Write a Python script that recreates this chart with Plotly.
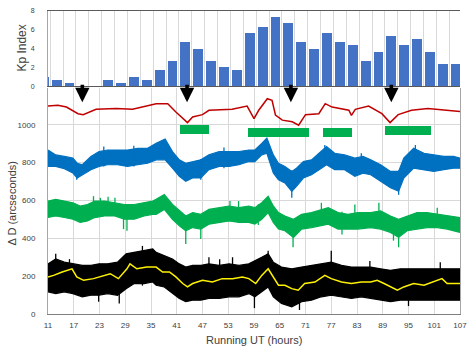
import plotly.graph_objects as go

# ---------------- data ----------------
kp_hours = [10, 13, 16, 19, 22, 25, 28, 31, 34, 37, 40, 43, 46, 49, 52, 55, 58, 61, 64,
            67, 70, 73, 76, 79, 82, 85, 88, 91, 94, 97, 100, 103, 106]
kp_values = [1.0, 0.67, 0.33, 0, 0, 0.67, 0.33, 1.0, 0.67, 1.67, 2.67, 4.67, 4.0, 2.67, 2.0,
             1.67, 5.67, 6.33, 7.33, 6.67, 4.67, 4.0, 5.67, 4.67, 4.33, 2.67, 3.67, 5.33,
             4.33, 5.0, 3.67, 2.33, 2.33]

red_hours = [11, 13.3, 15.3, 18.0, 19.2, 22.2, 26.9, 30.7, 36.2, 38.9, 40.8, 43.5, 44.7, 47.0,
             48.5, 53.9, 57.4, 59.0, 60.1, 62.1, 63.2, 64.0, 65.6, 67.9, 69.4, 71.0, 74.1,
             75.6, 77.2, 81.1, 81.7, 82.6, 85.7, 88.8, 90.7, 92.6, 95.7, 99.5, 107]
red_values = [1099, 1103, 1094, 1059, 1054, 1082, 1086, 1082, 1112, 1112, 1068, 1012, 1042, 1054,
              1077, 1082, 1099, 1033, 1077, 1138, 1130, 1052, 1025, 1016, 998, 1054, 1059,
              1112, 1094, 1077, 1050, 1082, 1099, 1059, 1012, 1054, 1077, 1086, 1071]

blue_hours = [11, 12.8, 14.8, 16.8, 17.8, 19, 21, 22.9, 24.9, 27.2, 29.5, 31.9, 34.2, 36.2, 38.3,
              40.0, 41.6, 43.1, 44.7, 46.6, 48.5, 50.9, 53.2, 55.5, 57.8, 59.2, 60.8, 62.0,
              63.5, 64.7, 66.2, 67.8, 68.9, 70.5, 72.4, 74.7, 75.9, 77.8, 80.1, 82.5, 84.4,
              86.2, 88.5, 90.8, 92.7, 93.9, 96.2, 98.6, 100.9, 103.2, 105.5, 107]
blue_top = [867, 841, 833, 824, 797, 789, 833, 859, 867, 867, 867, 876, 876, 902, 925,
            859, 815, 797, 806, 815, 841, 859, 859, 859, 867, 867, 902, 930,
            841, 797, 780, 754, 771, 806, 815, 859, 885, 850, 841, 824, 833,
            815, 789, 754, 754, 824, 876, 850, 841, 833, 833, 824]
blue_bottom = [780, 780, 768, 745, 719, 736, 763, 780, 789, 789, 780, 789, 797, 815, 815,
               771, 728, 702, 719, 719, 763, 780, 780, 789, 806, 806, 841, 850,
               745, 710, 693, 649, 675, 719, 736, 771, 789, 763, 763, 728, 745,
               736, 702, 667, 649, 719, 771, 763, 754, 763, 771, 771]
blue_spike_hours = [17.7, 46.6, 67.8, 75.5, 92.7, 96.6, 24.0, 31.0, 52.0, 84.0]
blue_spike_low = [710, 710, 614, 800, 630, 780, 780, 780, 770, 740]
blue_spike_high = [800, 820, 760, 893, 760, 893, 885, 890, 880, 850]

green_hours = [11, 12.8, 14.8, 16.8, 18.5, 20.2, 21.9, 24.2, 26.5, 28.8, 31.1, 33.4, 35.4, 36.2,
               38.1, 40.0, 41.6, 43.1, 44.7, 46.6, 48.5, 50.9, 53.2, 55.5, 57.8, 59.2, 60.8,
               62.3, 63.5, 64.7, 66.2, 68.2, 70.1, 72.4, 74.7, 76.3, 78.6, 80.9, 83.2, 86.2,
               88.5, 90.8, 92.7, 94.7, 97.0, 99.3, 101.7, 104.0, 107]
green_top = [597, 606, 597, 588, 571, 579, 597, 597, 588, 579, 579, 588, 597, 606,
             632, 579, 545, 518, 536, 527, 553, 562, 571, 562, 571, 562, 588,
             623, 571, 536, 518, 501, 527, 536, 553, 562, 536, 527, 536, 536,
             545, 518, 501, 518, 536, 536, 527, 518, 510]
green_bottom = [510, 518, 510, 501, 484, 492, 510, 518, 518, 501, 501, 518, 527, 527,
                553, 501, 466, 440, 457, 449, 475, 484, 492, 484, 484, 475, 501,
                536, 484, 449, 440, 405, 449, 457, 466, 475, 449, 449, 449, 457,
                449, 431, 405, 440, 449, 457, 457, 449, 431]
green_spike_hours = [21.6, 23.2, 25.0, 26.6, 28.6, 29.4, 43.1, 46.6, 53.4, 55.4, 68.1, 74.7,
                     82.5, 88.1, 91.5, 92.7, 101.7, 60.0, 79.5]
green_spike_low = [540, 540, 540, 540, 449, 440, 370, 396, 520, 520, 353, 500, 500, 500,
                   388, 353, 500, 470, 420]
green_spike_high = [623, 614, 620, 614, 560, 560, 500, 500, 597, 597, 470, 588, 579, 588,
                    480, 470, 562, 580, 540]

black_hours = [11, 12.8, 14.8, 16.8, 19, 21, 22.9, 24.9, 27.2, 29.2, 31.1, 33.4, 35.4, 36.2,
               38.1, 40.0, 41.6, 43.1, 44.7, 46.6, 48.5, 50.9, 53.2, 55.5, 57.8, 59.2, 60.8,
               62.3, 63.5, 65.4, 67.8, 70.1, 72.4, 74.7, 77.0, 79.4, 81.7, 84.0, 86.2, 88.5,
               90.8, 93.1, 95.5, 97.8, 100.1, 102.4, 104.7, 107]
black_top = [265, 291, 274, 265, 257, 257, 265, 265, 274, 318, 326, 335, 344, 326,
             309, 291, 265, 248, 257, 257, 265, 257, 265, 257, 265, 283, 300,
             318, 274, 248, 239, 248, 257, 265, 274, 257, 248, 248, 248, 239,
             231, 239, 239, 239, 239, 239, 239, 239]
black_bottom = [117, 108, 117, 108, 91, 99, 99, 108, 99, 134, 161, 161, 169, 152,
                143, 108, 82, 65, 73, 73, 82, 82, 91, 91, 108, 91, 117,
                143, 91, 56, 38, 65, 73, 91, 99, 91, 82, 91, 82, 73,
                65, 73, 73, 73, 73, 73, 73, 73]
black_spike_hours = [12.8, 22.8, 27.6, 48.5, 51.0, 54.0, 59.1, 62.3, 69.6, 77.0, 95.0, 102.4,
                     16.0, 33.0, 86.0]
black_spike_low = [200, 65, 56, 200, 200, 200, 31, 200, 21, 200, 42, 150, 150, 150, 100]
black_spike_high = [318, 150, 150, 300, 290, 300, 150, 335, 120, 335, 150, 274, 290, 360, 280]

yellow_hours = [11, 12.3, 14.3, 16.6, 17.7, 19.3, 21.6, 23.9, 25.5, 27.4, 29.4, 30.1, 31.7, 34.0,
                36.2, 37.7, 39.3, 40.8, 42.4, 43.5, 44.7, 47.0, 49.3, 51.6, 54.0, 56.3, 57.8,
                59.4, 60.8, 62.3, 63.5, 64.7, 66.2, 67.8, 69.3, 70.8, 73.2, 75.5, 77.0, 79.4,
                81.7, 84.0, 86.2, 87.7, 89.3, 90.8, 92.4, 93.9, 96.2, 98.6, 100.9, 102.8,
                104.0, 105.5, 107]
yellow_values = [196, 204, 222, 239, 196, 178, 187, 204, 213, 187, 239, 265, 239, 248,
                 248, 222, 222, 196, 161, 143, 161, 178, 169, 187, 187, 196, 187,
                 161, 204, 239, 196, 152, 152, 134, 126, 161, 169, 204, 187, 169,
                 161, 169, 169, 178, 161, 143, 126, 143, 161, 152, 169, 187,
                 161, 161, 161]

arrow_hours = [19, 43.4, 67.6, 91]
arrow_level = 1120

rect_start = [41.7, 57.5, 75.1, 89.5]
rect_end = [48.5, 71.8, 81.8, 100.3]
rect_level = [974, 961, 961, 971]

x_ticks = list(range(11, 108, 6))
y_ticks = [0, 200, 400, 600, 800, 1000]
kp_ticks = [0, 2, 4, 6, 8]

# ---------------- figure ----------------
BLUE = "#0070C0"
GREEN = "#00B050"
RED = "#C00000"
KPBLUE = "#4472C4"
GRID = "#D9D9D9"
TXT = "#404040"
FONT = "Liberation Sans"

fig = go.Figure()

# Kp bars (top panel)
fig.add_trace(go.Bar(x=kp_hours, y=kp_values, width=2.3, marker_color=KPBLUE,
                     marker_line_width=0, xaxis="x2", yaxis="y2", showlegend=False))


def band(hours, top, bottom, sp_h, sp_lo, sp_hi, color):
    fig.add_trace(go.Scatter(x=hours, y=bottom, mode="lines", line=dict(color=color, width=1.2),
                             showlegend=False, hoverinfo="skip"))
    fig.add_trace(go.Scatter(x=hours, y=top, mode="lines", line=dict(color=color, width=1.2),
                             fill="tonexty", fillcolor=color, showlegend=False,
                             hoverinfo="skip"))
    xs, ys = [], []
    for h, lo, hi in zip(sp_h, sp_lo, sp_hi):
        xs += [h, h, None]
        ys += [lo, hi, None]
    fig.add_trace(go.Scatter(x=xs, y=ys, mode="lines", line=dict(color=color, width=1.3),
                             showlegend=False, hoverinfo="skip", connectgaps=False))


band(blue_hours, blue_top, blue_bottom, blue_spike_hours, blue_spike_low, blue_spike_high, BLUE)
band(green_hours, green_top, green_bottom, green_spike_hours, green_spike_low,
     green_spike_high, GREEN)
band(black_hours, black_top, black_bottom, black_spike_hours, black_spike_low,
     black_spike_high, "#000000")

fig.add_trace(go.Scatter(x=yellow_hours, y=yellow_values, mode="lines",
                         line=dict(color="#FFF200", width=1.5), showlegend=False))
fig.add_trace(go.Scatter(x=red_hours, y=red_values, mode="lines",
                         line=dict(color=RED, width=1.5), showlegend=False))

# green storm-interval rectangles
fig.add_trace(go.Bar(orientation="h", y=rect_level,
                     x=[e - s for s, e in zip(rect_start, rect_end)], base=rect_start,
                     width=48, marker_color=GREEN, marker_line_width=0, showlegend=False))

for h in arrow_hours:
    fig.add_annotation(x=h, y=arrow_level, xref="x", yref="y", ax=0, ay=-19,
                       showarrow=True, arrowhead=2, arrowsize=0.8, arrowwidth=3.6,
                       arrowcolor="#000000", text="")

fig.add_annotation(text="Kp Index", xref="paper", yref="paper", x=0, y=0.876,
                   xanchor="center", yanchor="middle",
                   xshift=-26, showarrow=False, textangle=-90,
                   font=dict(family=FONT, size=12, color=TXT))
fig.add_annotation(text="Δ D (arcseconds)", xref="paper", yref="paper", x=0, y=0.365,
                   xanchor="center", yanchor="middle",
                   xshift=-36, showarrow=False, textangle=-90,
                   font=dict(family=FONT, size=11, color=TXT))
fig.add_annotation(text="Running UT (hours)", xref="paper", yref="paper", x=0.5, y=-0.085,
                   xanchor="center", yanchor="middle",
                   showarrow=False, font=dict(family=FONT, size=11, color=TXT))

fig.update_layout(
    width=474, height=351,
    margin=dict(l=48, r=12, t=7, b=37),
    paper_bgcolor="white", plot_bgcolor="white",
    barmode="overlay", bargap=0,
    font=dict(family=FONT, size=8, color=TXT),
    xaxis=dict(domain=[0, 1], range=[11, 107], tickvals=x_ticks, showgrid=True,
               gridcolor=GRID, gridwidth=1, showline=True, linecolor="#7F7F7F",
               linewidth=1, zeroline=False, ticks="", ticklabelstandoff=3,
               tickfont=dict(size=8, color=TXT)),
    yaxis=dict(domain=[0, 0.746], range=[0, 1195], tickvals=y_ticks, showgrid=True,
               gridcolor=GRID, gridwidth=1, showline=True, linecolor="#A6A6A6",
               mirror=True, zeroline=False, ticks="", ticklabelstandoff=10,
               tickfont=dict(size=8, color=TXT)),
    xaxis2=dict(domain=[0, 1], anchor="y2", range=[11, 107], tick0=11.5, dtick=3,
                showticklabels=False, showgrid=True, gridcolor=GRID, showline=True,
                linecolor="#595959", mirror=True, zeroline=False, ticks=""),
    yaxis2=dict(domain=[0.752, 1], anchor="x2", range=[0, 8], tickvals=kp_ticks,
                showgrid=False, showline=True, linecolor="#A6A6A6", zeroline=False,
                ticks="", ticklabelstandoff=11, tickfont=dict(size=7, color=TXT)),
)

fig.write_html("out.html")
